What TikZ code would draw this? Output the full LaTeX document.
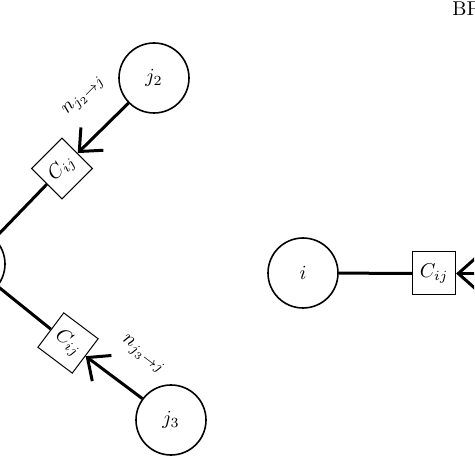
\documentclass[tikz,border=0pt]{standalone}
\usetikzlibrary{arrows.meta}
\begin{document}
\begin{tikzpicture}[x=0.5pt,y=-0.5pt,
  varnode/.style={circle,draw,line width=0.8pt,minimum size=35pt,inner sep=0pt},
  facbox/.style={rectangle,draw,line width=0.5pt,minimum size=21.5pt,inner sep=0pt},
  edge/.style={line width=1.5pt},
  msg/.style={line width=1.5pt,-{Straight Barb[length=9pt,width=16pt]}},
  lbl/.style={inner sep=1pt}]
\clip (0,0) rectangle (474,474);
\node[varnode] (jc) at (-30,264) {};
\node[varnode] (j2) at (154,78) {$j_2$};
\node[varnode] (j3) at (171,420) {$j_3$};
\node[facbox,rotate=45] (c2) at (62,168.5) {$C_{ij}$};
\node[facbox,rotate=-37] (c3) at (68,343) {$C_{ij}$};
\draw[edge] (jc) -- (c2);
\draw[edge] (jc) -- (c3);
\draw[msg] (j2) -- (c2);
\draw[msg] (j3) -- (c3);
\node[lbl,rotate=45] (l2) at (84,96) {$n_{j_2\to j}$};
\node[lbl,rotate=-37] (l3) at (143,355) {$n_{j_3\to j}$};
\node[varnode] (i) at (303,273) {$i$};
\node[facbox] (cr) at (434,273.5) {$C_{ij}$};
\coordinate (rend) at (520,273.5);
\draw[edge] (i) -- (cr);
\draw[msg] (rend) -- (cr);
\node[anchor=base west,inner sep=0pt] (bp) at (452,16) {BP};
\end{tikzpicture}
\end{document}
